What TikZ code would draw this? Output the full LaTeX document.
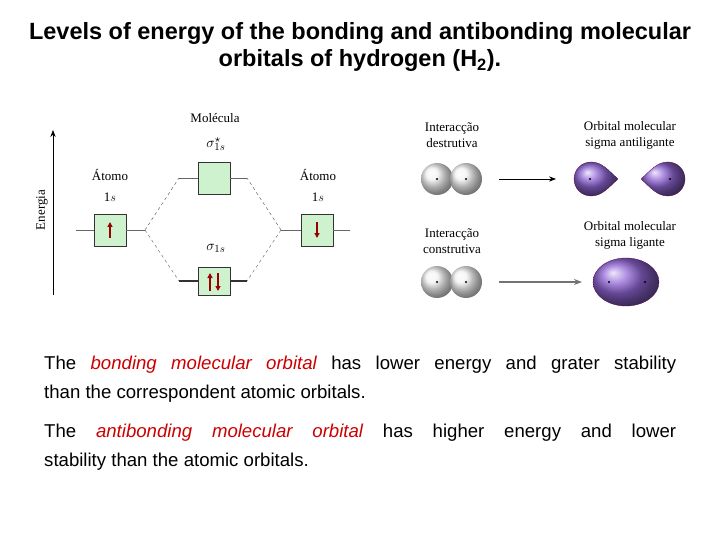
\documentclass[tikz,border=0pt]{standalone}
\usepackage{fontspec}
\usetikzlibrary{arrows.meta}
\setmainfont{Liberation Sans}
\newfontfamily\serf{Liberation Serif}
\begin{document}
\begin{tikzpicture}[x=1pt,y=-1pt,
  lvl/.style={draw=black!80,fill=green!15!white!95!black,minimum width=32pt,minimum height=32pt,inner sep=0pt},
  lbl/.style={font=\serf\fontsize{13}{16}\selectfont,align=center,inner sep=0pt},
  spin/.style={-{Triangle[length=5pt,width=5pt]},draw=red!60!black,line width=1.3pt},
  hl/.style={draw=black!60,line width=0.8pt},
  gball/.style={ball color=gray!12,draw=none,opacity=0.9},
  pball/.style={ball color=violet!55!blue!60!white,draw=violet!60!black,line width=0.3pt},
  dot/.style={circle,fill=black,inner sep=0.8pt},
  para/.style={anchor=north west,text width=632pt,align=justify,inner sep=0pt,font=\fontsize{18.6}{29}\selectfont}]
\useasboundingbox (0,0) rectangle (720,540);
\node[font=\bfseries\fontsize{23.5}{27}\selectfont,align=center] (title) at (360,47) {Levels of energy of the bonding and antibonding molecular\\orbitals of hydrogen (H\textsubscript{2}).};
% energy axis
\coordinate (ea) at (53,295); \coordinate (eb) at (53,130);
\draw[-{Stealth[length=7pt]},line width=0.8pt] (ea) -- (eb);
\node[lbl,rotate=90] (en) at (42,210) {Energia};
\node[lbl] (mol) at (215,118) {Molécula};
\node[lbl,font=\fontsize{15}{16}\selectfont] (sst) at (216,144) {$\sigma^{\star}_{1s}$};
\node[lbl,font=\fontsize{15}{16}\selectfont] (s1) at (216,248) {$\sigma_{1s}$};
\node[lbl] (la) at (110,175) {Átomo}; \node[lbl] (l1) at (110,197) {1$s$};
\node[lbl] (ra) at (318,175) {Átomo}; \node[lbl] (r1) at (318,197) {1$s$};
\node[lvl] (L) at (110,230) {}; \node[lvl] (R) at (317,230) {};
\node[lvl] (T) at (214,178) {}; \node[lvl,minimum height=28pt] (B) at (214,281) {};
\coordinate (L0) at (76,230); \coordinate (L1) at (145,230);
\coordinate (R0) at (281,230); \coordinate (R1) at (350,230);
\coordinate (T0) at (179,178); \coordinate (T1) at (247,178);
\coordinate (B0) at (179,281); \coordinate (B1) at (247,281);
\draw[hl] (L0)--(L.west) (L.east)--(L1) (R0)--(R.west) (R.east)--(R1) (T0)--(T.west) (T.east)--(T1);
\draw[hl,line width=1.3pt,draw=black!80] (B0)--(B.west) (B.east)--(B1);
\draw[dashed,black!70] (L1)--(T0) (L1)--(B0) (R0)--(T1) (R0)--(B1);
\draw[spin] ([yshift=-8pt]L.center) -- ([yshift=8pt]L.center);
\draw[spin] ([yshift=8pt]R.center) -- ([yshift=-8pt]R.center);
\draw[spin] ([xshift=-4pt,yshift=-10pt]B.center) -- ([xshift=-4pt,yshift=8pt]B.center);
\draw[spin] ([xshift=4pt,yshift=8pt]B.center) -- ([xshift=4pt,yshift=-10pt]B.center);
% right side
\node[lbl] (d) at (452,135) {Interacção\\destrutiva};
\node[lbl] (c) at (452,241) {Interacção\\construtiva};
\node[lbl] (oa) at (630,135) {Orbital molecular\\sigma antiligante};
\node[lbl] (ol) at (630,235) {Orbital molecular\\sigma ligante};
\foreach \y/\n in {179/u,282/w}{
  \shade[gball] (437,\y) circle (16);
  \shade[gball] (466,\y) circle (16);
  \node[dot] (\n1) at (437,\y) {}; \node[dot] (\n2) at (466,\y) {};
}
\coordinate (a1) at (499,179); \coordinate (a2) at (556,179);
\draw[-{Stealth[length=7pt]},line width=0.8pt] (a1)--(a2);
\coordinate (b1) at (499,282); \coordinate (b2) at (582,282);
\draw[-{Stealth[length=8pt]},line width=2pt,black!55] (b1)--(b2);
\shade[pball] (618,179) .. controls (608,170) and (602,162) .. (591,162) arc(-90:-270:17) .. controls (602,196) and (608,188) .. (618,179);
\shade[pball] (641,179) .. controls (651,170) and (657,162) .. (668,162) arc(-90:90:17) .. controls (657,196) and (651,188) .. (641,179);
\shade[pball] (626,282) ellipse (33 and 24);
\node[dot] (p1) at (590,179) {}; \node[dot] (p2) at (670,179) {};
\node[dot] (p3) at (609,282) {}; \node[dot] (p4) at (645,282) {};
% text
\node[para] (t1) at (44,356) {The \textcolor{red!80!black}{\itshape bonding molecular orbital} has lower energy and grater stability\linebreak than the correspondent atomic orbitals.};
\node[para] (t2) at (44,424) {The \textcolor{red!80!black}{\itshape antibonding molecular orbital} has higher energy and lower\linebreak stability than the atomic orbitals.};
\end{tikzpicture}
\end{document}
